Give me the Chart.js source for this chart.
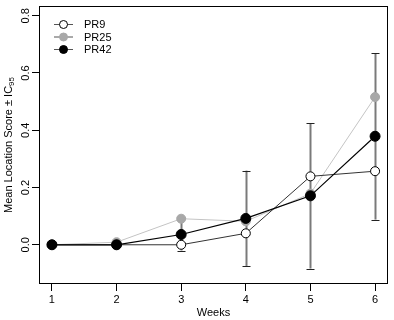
<!DOCTYPE html>
<html>
<head>
<meta charset="utf-8">
<script src="https://cdn.jsdelivr.net/npm/chart.js"></script>
<style>
  html, body { margin: 0; padding: 0; background: #fff; }
  #chart { display: block; }
</style>
</head>
<body>
<canvas id="chart" width="394" height="320"></canvas>
<script>
/* Data */

const weeks = [1, 2, 3, 4, 5, 6];
const pr9 = [0, 0, 0, 0.04, 0.239, 0.257];
const pr25 = [0, 0.009, 0.091, 0.082, 0.179, 0.516];
const pr42 = [0, 0, 0.036, 0.092, 0.171, 0.379];
const pr42Low = [0, 0, -0.02, -0.074, -0.083, 0.088];
const pr42High = [0, 0, 0.092, 0.259, 0.424, 0.669];
const yTicks = [0, 0.2, 0.4, 0.6, 0.8];

const fontName = "'Liberation Sans', Arial, sans-serif";

function toPoints(values) {
  return weeks.map((w, i) => ({ x: w, y: values[i] }));
}

/* Plugin: box, y labels, error bars, legend */

const rStyle = {
  id: "rStyle",
  beforeDatasetsDraw(chart) {
    const ctx = chart.ctx;
    const x = chart.scales.x;
    const y = chart.scales.y;
    ctx.save();
    weeks.forEach((w, i) => {
      if (pr42High[i] - pr42Low[i] < 0.001) return;
      const px = Math.round(x.getPixelForValue(w)) + 0.5;
      const top = y.getPixelForValue(pr42High[i]);
      const bot = y.getPixelForValue(pr42Low[i]);
      ctx.strokeStyle = "#7a7a7a";
      ctx.lineWidth = 2;
      ctx.beginPath();
      ctx.moveTo(px, top);
      ctx.lineTo(px, bot);
      ctx.stroke();
      ctx.strokeStyle = "#222";
      ctx.lineWidth = 1;
      ctx.beginPath();
      ctx.moveTo(px - 4, Math.round(top) + 0.5);
      ctx.lineTo(px + 4, Math.round(top) + 0.5);
      ctx.moveTo(px - 4, Math.round(bot) + 0.5);
      ctx.lineTo(px + 4, Math.round(bot) + 0.5);
      ctx.stroke();
    });
    ctx.restore();
  },
  afterDraw(chart) {
    const ctx = chart.ctx;
    const area = chart.chartArea;
    const y = chart.scales.y;
    ctx.save();

    // box
    ctx.strokeStyle = "#000";
    ctx.lineWidth = 1;
    ctx.strokeRect(area.left + 0.5, area.top + 0.5,
      area.right - area.left - 1, area.bottom - area.top - 1);

    // rotated y tick labels
    ctx.fillStyle = "#000";
    ctx.font = "11px " + fontName;
    ctx.textAlign = "center";
    ctx.textBaseline = "middle";
    yTicks.forEach(v => {
      ctx.save();
      ctx.translate(26, y.getPixelForValue(v));
      ctx.rotate(-Math.PI / 2);
      ctx.fillText(v.toFixed(1), 0, 0);
      ctx.restore();
    });

    // y title with subscript
    const main = "Mean Location Score \u00b1 IC";
    const sub = "95";
    ctx.font = "11px " + fontName;
    const wMain = ctx.measureText(main).width;
    ctx.font = "8px " + fontName;
    const wSub = ctx.measureText(sub).width;
    const total = wMain + wSub;
    ctx.save();
    ctx.translate(9, (area.top + area.bottom) / 2);
    ctx.rotate(-Math.PI / 2);
    ctx.textAlign = "left";
    ctx.textBaseline = "middle";
    ctx.font = "11px " + fontName;
    ctx.fillText(main, -total / 2, 0);
    ctx.font = "8px " + fontName;
    ctx.fillText(sub, -total / 2 + wMain, 3);
    ctx.restore();

    // legend
    const items = [
      { label: "PR9", fill: "#fff", stroke: "#000" },
      { label: "PR25", fill: "#a8a8a8", stroke: "#a8a8a8" },
      { label: "PR42", fill: "#000", stroke: "#000" }
    ];
    items.forEach((item, i) => {
      const ly = 24 + i * 12.5;
      ctx.strokeStyle = "#555";
      ctx.lineWidth = 1;
      ctx.beginPath();
      ctx.moveTo(54, ly + 0.5);
      ctx.lineTo(73, ly + 0.5);
      ctx.stroke();
      ctx.beginPath();
      ctx.arc(63.5, ly + 0.5, 4, 0, Math.PI * 2);
      ctx.fillStyle = item.fill;
      ctx.fill();
      ctx.strokeStyle = item.stroke;
      ctx.stroke();
      ctx.fillStyle = "#000";
      ctx.font = "11px " + fontName;
      ctx.textAlign = "left";
      ctx.textBaseline = "middle";
      ctx.fillText(item.label, 84, ly + 1);
    });

    ctx.restore();
  }
};

/* Chart */

new Chart(document.querySelector("#chart"), {
  type: "line",
  data: {
    datasets: [
      {
        label: "PR9",
        data: toPoints(pr9),
        borderColor: "#333",
        borderWidth: 1,
        backgroundColor: "#fff",
        pointBorderColor: "#000",
        pointBackgroundColor: "#fff",
        pointRadius: 4.5,
        pointBorderWidth: 1,
        order: 1
      },
      {
        label: "PR25",
        data: toPoints(pr25),
        borderColor: "#c4c4c4",
        borderWidth: 1,
        pointBorderColor: "#a8a8a8",
        pointBackgroundColor: "#a8a8a8",
        pointRadius: 4.5,
        pointBorderWidth: 1,
        order: 2
      },
      {
        label: "PR42",
        data: toPoints(pr42),
        borderColor: "#000",
        borderWidth: 1.2,
        pointBorderColor: "#000",
        pointBackgroundColor: "#000",
        pointRadius: 5,
        pointBorderWidth: 1,
        order: 0
      }
    ]
  },
  options: {
    responsive: false,
    animation: false,
    layout: { padding: { top: 0, right: 1, left: 0, bottom: 0 } },
    plugins: {
      legend: { display: false },
      tooltip: { enabled: false }
    },
    scales: {
      x: {
        type: "linear",
        min: 0.8,
        max: 6.2,
        afterBuildTicks: scale => {
          scale.ticks = weeks.map(w => ({ value: w }));
        },
        afterFit: scale => { scale.height = 36; },
        grid: {
          drawOnChartArea: false,
          drawTicks: true,
          tickLength: 7,
          color: "#000"
        },
        border: { display: false },
        ticks: {
          color: "#000",
          font: { size: 11, family: fontName },
          padding: 2,
          maxRotation: 0,
          callback: v => String(v)
        },
        title: {
          display: true,
          text: "Weeks",
          color: "#000",
          font: { size: 11, family: fontName },
          padding: { top: 0, bottom: 0 }
        }
      },
      y: {
        min: -0.137,
        max: 0.834,
        afterBuildTicks: scale => {
          scale.ticks = yTicks.map(v => ({ value: v }));
        },
        afterFit: scale => { scale.width = 39; },
        grid: {
          drawOnChartArea: false,
          drawTicks: true,
          tickLength: 7,
          color: "#000"
        },
        border: { display: false },
        ticks: { display: false }
      }
    }
  },
  plugins: [rStyle]
});
</script>
</body>
</html>
